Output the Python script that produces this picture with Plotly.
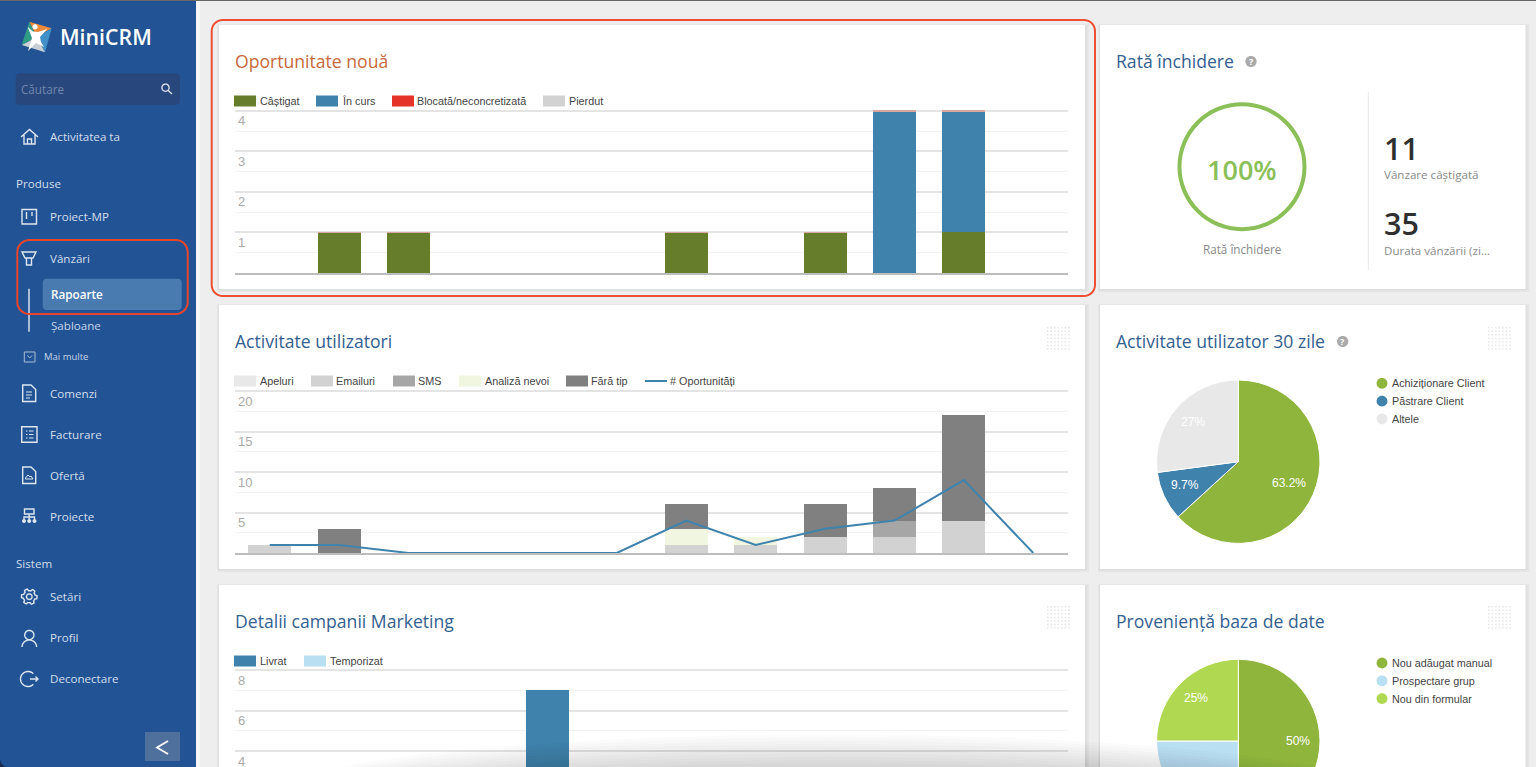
import math
import plotly.graph_objects as go

# ---------- data ----------
periods = list(range(12))
opp_castigat = [0, 1, 1, 0, 0, 0, 1, 0, 1, 0, 1, 0]
opp_in_curs = [0, 0, 0, 0, 0, 0, 0, 0, 0, 4, 3, 0]
opp_blocata = [0, 0.012, 0.012, 0, 0, 0, 0.012, 0, 0.012, 0.012, 0.012, 0]
opp_pierdut = [0] * 12
opp_ticks = [1, 2, 3, 4]
opp_minor = [0.5, 1.5, 2.5, 3.5]

act_apeluri = [0] * 12
act_emailuri = [1, 0, 0, 0, 0, 0, 1, 1, 2, 2, 4, 0]
act_sms = [0, 0, 0, 0, 0, 0, 0, 0, 0, 2, 0, 0]
act_analiza = [0, 0, 0, 0, 0, 0, 2, 1, 0, 0, 0, 0]
act_fara_tip = [0, 3, 0, 0, 0, 0, 3, 0, 4, 4, 13, 0]
act_oportunitati = [1, 1, 0, 0, 0, 0, 4, 1, 3, 4, 9, 0]
act_ticks = [5, 10, 15, 20]
act_minor = [2.5, 7.5, 12.5, 17.5]

camp_livrat = [0, 0, 0, 0, 7, 0, 0, 0, 0, 0, 0, 0]
camp_temporizat = [0] * 12
camp_ticks = [4, 6, 8]
camp_minor = [1, 3, 5, 7]

act30_labels = ["Achiziționare Client", "Păstrare Client", "Altele"]
act30_values = [63.2, 9.7, 27.1]
act30_text = ["63.2%", "9.7%", "27%"]
src_labels = ["Nou adăugat manual", "Prospectare grup", "Nou din formular"]
src_values = [50, 25, 25]
src_text = ["50%", "25%"]
close_rate = [100]

GREEN, BLUE, RED = "#667e2c", "#3f83ad", "#e53327"
LG1, LG2, G3, G4 = "#e8e8e8", "#d2d2d2", "#a6a6a6", "#808080"
PALE = "#f0f6e0"
LBLUE = "#b9dff3"
PGREEN, LIME = "#8fb53d", "#b0d850"
W, H = 1536, 860
SANS = "Open Sans"
ARIAL = "Liberation Sans"
TITLE = "#34608f"
SIDE = "#225495"
SIDETXT = "#d3deec"

def X(p): return p / W
def Y(p): return 1 - p / H

shapes, annos = [], []

def rect(x0, y0, x1, y1, fill, layer="below", **kw):
    shapes.append(dict(type="rect", xref="paper", yref="paper", x0=X(x0), x1=X(x1), y0=Y(y0), y1=Y(y1),
                       fillcolor=fill, line=dict(width=0), layer=layer, **kw))

def path_str(polys):
    out = []
    for pts, closed in polys:
        out.append("M " + " L ".join(f"{X(a):.5f},{Y(b):.5f}" for a, b in pts) + (" Z" if closed else ""))
    return " ".join(out)

def stroke(polys, color="#dde6f1", width=1.4, fill=None, layer="above"):
    shapes.append(dict(type="path", xref="paper", yref="paper", path=path_str(polys), layer=layer,
                       line=dict(color=color, width=width), fillcolor=fill or "rgba(0,0,0,0)"))

def solid(pts, fill, layer="above"):
    shapes.append(dict(type="path", xref="paper", yref="paper", path=path_str([(pts, True)]), layer=layer,
                       line=dict(width=0), fillcolor=fill))

def arc(cx, cy, r, a0=0, a1=360, n=28, ry=None):
    ry = ry or r
    return [(cx + r * math.cos(math.radians(a0 + (a1 - a0) * i / n)),
             cy + ry * math.sin(math.radians(a0 + (a1 - a0) * i / n))) for i in range(n + 1)]

def round_rect(x0, y0, x1, y1, r):
    pts = []
    pts += arc(x1 - r, y0 + r, r, -90, 0, 8)
    pts += arc(x1 - r, y1 - r, r, 0, 90, 8)
    pts += arc(x0 + r, y1 - r, r, 90, 180, 8)
    pts += arc(x0 + r, y0 + r, r, 180, 270, 8)
    return pts

def txt(x, y, s, size=12, color="#444", family=SANS, anchor="left", weight=None):
    f = dict(size=size, color=color, family=family)
    if weight:
        f["weight"] = weight
    annos.append(dict(xref="paper", yref="paper", x=X(x), y=Y(y), text=s, showarrow=False, xanchor=anchor,
                      yanchor="middle", font=f, borderpad=0, borderwidth=0))

def dots(x0, y0):
    polys = []
    for i in range(7):
        for j in range(7):
            a, b = x0 + i * 3.55, y0 + j * 3.55
            polys.append(([(a, b), (a + 1.5, b), (a + 1.5, b + 1.5), (a, b + 1.5)], True))
    shapes.append(dict(type="path", xref="paper", yref="paper", path=path_str(polys), layer="below",
                       line=dict(width=0), fillcolor="#e6e6e6"))

# ---------- page ----------
rect(196, 0, 200, H, "#f6f6f6")
rect(0, 0, 196, H, SIDE)
rect(0, 0, W, 1, "#666666", layer="above")
solid([(0, 767), (0, 760), (1.5, 763.5), (4, 766), (7, 767)], "#1c2b4d")

cards = [(219, 25, 1085, 289), (219, 305, 1085, 569), (219, 585, 1085, 860),
         (1100, 25, 1525.5, 289), (1100, 305, 1525.5, 569), (1100, 585, 1525.5, 860)]
for a, b, c, d in cards:
    rect(a - 2, b - 1, c + 4, d + 3, "#e6e6e6")
    rect(a - 1, b, c + 2, d + 1.5, "#dedede")
    rect(a, b, c, d, "#ffffff")

# ---------- sidebar ----------
solid(round_rect(15.7, 73.3, 180, 104.7, 4), "#28477c", layer="below")
solid(round_rect(42.7, 278.7, 181.7, 310, 4), "#4a7bb0", layer="below")
rect(145, 732, 180, 761, "#4f6f9c")
# logo
TL, RR, BB, LL, CC = (29.3, 21.7), (51.7, 28.3), (45, 52.3), (21.7, 45), (36.5, 37)
solid([TL, RR, CC], "#ea8a3a")
solid([RR, BB, CC], "#4290c8")
solid([BB, LL, CC], "#c9cfd3")
solid([LL, TL, CC], "#2f9c86")
solid([(27.7, 27), (33, 31.5), (38, 32), (47.3, 29), (40, 37), (41, 42), (44, 47), (36, 43), (28, 51), (32, 38)], "#ffffff")
solid(arc(35, 26.8, 2.6), "#ffffff")
txt(60, 36.5, "MiniCRM", 21.3, "#ffffff", weight=600)

txt(21, 88.7, "Căutare", 11.7, "#7188ae")
stroke([(arc(165.5, 87.7, 3.6), False), ([(168.2, 90.4), (172, 94)], False)], "#dfe6ef", 1.3)

for x, y, s, sz, col, wt in [
    (50, 136.4, "Activitatea ta", 11.6, SIDETXT, None), (16, 183.4, "Produse", 11.6, SIDETXT, None),
    (50, 216.4, "Proiect-MP", 11.6, SIDETXT, None), (50, 258.4, "Vânzări", 11.6, SIDETXT, None),
    (51, 294.4, "Rapoarte", 11.7, "#ffffff", 600), (51, 325.4, "Șabloane", 11.6, "#c5d3e6", None),
    (44, 356.6, "Mai multe", 9.5, "#c5d3e6", None), (50, 393.4, "Comenzi", 11.6, SIDETXT, None),
    (50, 434.4, "Facturare", 11.6, SIDETXT, None), (50, 475.4, "Ofertă", 11.6, SIDETXT, None),
    (50, 516.4, "Proiecte", 11.6, SIDETXT, None), (16, 563.4, "Sistem", 11.6, SIDETXT, None),
    (50, 596.4, "Setări", 11.6, SIDETXT, None), (50, 637.4, "Profil", 11.6, SIDETXT, None),
    (50, 678.4, "Deconectare", 11.6, SIDETXT, None)]:
    txt(x, y, s, sz, col, weight=wt)

# icons
stroke([([(21, 137), (29.5, 129.5), (38, 137)], False), ([(24, 135), (24, 144), (35, 144), (35, 135)], False),
        ([(27.5, 144), (27.5, 139), (31.5, 139), (31.5, 144)], False)])
stroke([([(22, 209.5), (36.5, 209.5), (36.5, 224), (22, 224)], True), ([(26.5, 212), (26.5, 219)], False),
        ([(32, 212), (32, 216)], False)])
stroke([([(22, 252), (36, 252), (33, 258), (25, 258)], True), ([(26.5, 258), (26.5, 265), (31.5, 265), (31.5, 258)], False)])
stroke([([(29, 288.7), (29, 331.7)], False)], "#d6e0ed", 1.5)
stroke([([(24.3, 352), (35, 352), (35, 362), (24.3, 362)], True), ([(27.5, 355.5), (29.7, 358), (32, 355.5)], False)], "#a9bdd8", 1)
for top in (385, 467):
    stroke([([(22.7, top), (31, top), (35.7, top + 4.5), (35.7, top + 16.5), (22.7, top + 16.5)], True)])
stroke([([(26, 392), (32, 392)], False), ([(26, 395), (32, 395)], False), ([(26, 398), (30, 398)], False)], width=1)
stroke([([(25.5, 478), (28, 475), (30, 477), (31, 476), (33, 479), (25.5, 479)], True)], width=1)
stroke([([(21.7, 426.7), (37, 426.7), (37, 442.3), (21.7, 442.3)], True)])
stroke([([(26, 431), (27.5, 431)], False), ([(29, 431), (33.5, 431)], False), ([(26, 434.5), (27.5, 434.5)], False),
        ([(29, 434.5), (33.5, 434.5)], False), ([(26, 438), (27.5, 438)], False), ([(29, 438), (33.5, 438)], False)], width=1)
stroke([([(24.5, 509), (34, 509), (34, 514), (24.5, 514)], True), ([(29.2, 514), (29.2, 519)], False),
        ([(24, 519), (24, 517), (34.5, 517), (34.5, 519)], False)])
solid(arc(24, 521, 2), "#dde6f1")
solid(arc(29.2, 521, 2), "#dde6f1")
solid(arc(34.5, 521, 2), "#dde6f1")
gear = []
for i in range(48):
    rr = 7.8 if (i % 8) in (0, 1, 2, 7) else 6.0
    gear.append((29.3 + rr * math.cos(math.radians(i * 7.5)), 596.7 + rr * math.sin(math.radians(i * 7.5))))
stroke([(gear, True), (arc(29.3, 596.7, 2.8), False)])
stroke([(arc(29.3, 635, 4.6), False), (arc(29.3, 647, 7.3, 180, 360, 16, ry=7), False)])
stroke([(arc(28, 679, 7.5, 45, 315), False), ([(30, 679), (38, 679)], False), ([(35.5, 676.5), (38, 679), (35.5, 681.5)], False)])
stroke([([(168, 741), (157, 747.5), (168, 754)], False)], "#ffffff", 1.8)

# ---------- red highlights ----------
stroke([(round_rect(211.7, 20, 1095, 296, 11), True)], "#ee4f33", 2)
stroke([(round_rect(17.3, 240, 187.7, 314, 12), True)], "#e8452c", 2)

# ---------- card headers ----------
txt(235, 61, "Oportunitate nouă", 17.6, "#c8683c")
txt(235, 341, "Activitate utilizatori", 17.6, TITLE)
txt(235, 621, "Detalii campanii Marketing", 17.6, TITLE)
txt(1116, 61, "Rată închidere", 17.6, TITLE)
txt(1116, 341, "Activitate utilizator 30 zile", 17.6, TITLE)
txt(1116, 621, "Proveniență baza de date", 17.6, TITLE)
for cx, cy in [(1251, 61.5), (1342.7, 341.5)]:
    solid(arc(cx, cy, 5.6), "#aaaaaa")
    txt(cx, cy, "?", 9, "#ffffff", anchor="center", weight=700)
dots(1047, 327); dots(1488, 327); dots(1047, 606); dots(1488, 606)

# ---------- legends ----------
def swatch(x, y, fill):
    rect(x, y - 5.5, x + 22, y + 5.5, fill, layer="above")

for sx, tx, s, c in [(234, 260, "Câștigat", GREEN), (316, 342, "În curs", BLUE),
                     (392, 417, "Blocată/neconcretizată", RED), (543, 569, "Pierdut", LG2)]:
    swatch(sx, 101, c); txt(tx, 101, s, 10.8, "#444", ARIAL)
for sx, tx, s, c in [(234, 260, "Apeluri", LG1), (311, 336, "Emailuri", LG2), (393, 418, "SMS", G3),
                     (459, 485, "Analiză nevoi", PALE), (566, 591, "Fără tip", G4)]:
    swatch(sx, 381, c); txt(tx, 381, s, 10.8, "#444", ARIAL)
stroke([([(645, 381), (667, 381)], False)], BLUE, 2)
txt(670, 381, "# Oportunități", 10.8, "#444", ARIAL)
for sx, tx, s, c in [(234, 260, "Livrat", BLUE), (304, 330, "Temporizat", LBLUE)]:
    swatch(sx, 661, c); txt(tx, 661, s, 10.8, "#444", ARIAL)
for labels, cols, y0 in [(act30_labels, [PGREEN, BLUE, LG1], 383.3), (src_labels, [PGREEN, LBLUE, LIME], 663)]:
    for i, (s, c) in enumerate(zip(labels, cols)):
        solid(arc(1382, y0 + i * 17.8, 5.4), c)
        txt(1391.5, y0 + i * 17.8, s, 10.8, "#444", ARIAL)

# ---------- rate card ----------
stroke([([(1368.3, 92), (1368.3, 270)], False)], "#e8e8e8", 1)
txt(1242, 169.5, "100%", 27, "#8bc058", anchor="center", weight=600)
txt(1242, 248.8, "Rată închidere", 11.7, "#8a8a8a", anchor="center")
txt(1384, 148.3, "11", 30.5, "#2f2f2f", weight=600)
txt(1384, 174.6, "Vânzare câștigată", 11.6, "#8a8a8a")
txt(1384, 223.3, "35", 30.5, "#2f2f2f", weight=600)
txt(1384, 250, "Durata vânzării (zi...", 11.6, "#8a8a8a")

# ---------- pie labels ----------
for (x, y), s in zip([(1288.7, 483.3), (1185, 485), (1193, 422)], act30_text):
    txt(x, y, s, 12, "#ffffff", ARIAL, anchor="center")
for (x, y), s in zip([(1298, 741), (1195.7, 698)], src_text):
    txt(x, y, s, 12, "#ffffff", ARIAL, anchor="center")

# ---------- traces ----------
fig = go.Figure()

def bar(name, vals, color, ax):
    fig.add_trace(go.Bar(x=periods, y=vals, name=name, marker=dict(color=color, line=dict(width=0)), width=0.62,
                         xaxis=f"x{ax}", yaxis=f"y{ax}", showlegend=False))

bar("Câștigat", opp_castigat, GREEN, 1)
bar("În curs", opp_in_curs, BLUE, 1)
bar("Blocată/neconcretizată", opp_blocata, "#d9a79f", 1)
bar("Pierdut", opp_pierdut, LG2, 1)
bar("Apeluri", act_apeluri, LG1, 2)
bar("Emailuri", act_emailuri, LG2, 2)
bar("SMS", act_sms, G3, 2)
bar("Analiză nevoi", act_analiza, PALE, 2)
bar("Fără tip", act_fara_tip, G4, 2)
fig.add_trace(go.Scatter(x=periods, y=act_oportunitati, name="# Oportunități", mode="lines",
                         line=dict(color=BLUE, width=2), xaxis="x2", yaxis="y2", showlegend=False, cliponaxis=False))
bar("Livrat", camp_livrat, BLUE, 3)
bar("Temporizat", camp_temporizat, LBLUE, 3)

def pie(labels, values, colors, cx, cy, r, hole=0):
    fig.add_trace(go.Pie(labels=labels, values=values, marker=dict(colors=colors, line=dict(color="#ffffff", width=1 if hole == 0 else 0)),
                         sort=False, direction="clockwise", rotation=0, hole=hole, textinfo="none", showlegend=False,
                         domain=dict(x=[X(cx - r), X(cx + r)], y=[Y(cy + r), Y(cy - r)])))

pie(["Rată închidere"], close_rate, ["#8bc058"], 1242, 166.7, 64.5, hole=0.938)
pie(act30_labels, act30_values, [PGREEN, BLUE, LG1], 1238.3, 461.7, 81.7)
pie(src_labels, src_values, [PGREEN, LBLUE, LIME], 1238.3, 741, 81.7)

# soft shadow along the bottom of the screenshot
for k in range(14):
    rx, ry = 450 + k * 9, 24 + k * 3.2
    shapes.append(dict(type="circle", xref="paper", yref="paper", x0=X(830 - rx), x1=X(830 + rx), y0=Y(800 + ry), y1=Y(800 - ry),
                       fillcolor="rgba(0,0,0,0.014)", line=dict(width=0), layer="above"))

def xax(ax):
    return dict(domain=[X(235), X(1068)], range=[-0.5, 11.5], showgrid=False, zeroline=False, showticklabels=False,
                ticks="", showline=True, linecolor="#bdbdbd", linewidth=1.6, anchor=f"y{ax}")

def yax(ax, top, bottom, ymax, ticks, minor):
    return dict(domain=[Y(bottom), Y(top)], range=[0, ymax], tickmode="array", tickvals=ticks, ticktext=[str(t) for t in ticks],
                ticks="", showgrid=True, gridcolor="#e4e4e4", gridwidth=1.6, zeroline=False, showline=False,
                ticklabelposition="inside", ticklabelshift=10, tickfont=dict(size=13, color="#aaaaaa", family=ARIAL),
                minor=dict(tickmode="array", tickvals=minor, showgrid=True, gridcolor="#f3f3f3", gridwidth=1, ticks=""),
                anchor=f"x{ax}")

fig.update_layout(
    width=W, height=H, margin=dict(l=0, r=0, t=0, b=0), autosize=False,
    paper_bgcolor="#eeeeee", plot_bgcolor="rgba(0,0,0,0)", barmode="stack", bargap=0.38,
    shapes=shapes, annotations=annos, showlegend=False,
    xaxis=xax(""), xaxis2=xax(2), xaxis3=xax(3),
    yaxis=yax("", 108.7, 273, 4.05, opp_ticks, opp_minor),
    yaxis2=yax(2, 389, 553, 20.25, act_ticks, act_minor),
    yaxis3=yax(3, 668, 832, 8.1, camp_ticks, camp_minor),
)
fig.layout.xaxis.anchor = "y"
fig.layout.yaxis.anchor = "x"

fig.write_html("out.html", config=dict(displayModeBar=False),
               post_script="document.documentElement.style.overflow='hidden';document.body.style.margin='0';document.body.style.overflow='hidden';")
